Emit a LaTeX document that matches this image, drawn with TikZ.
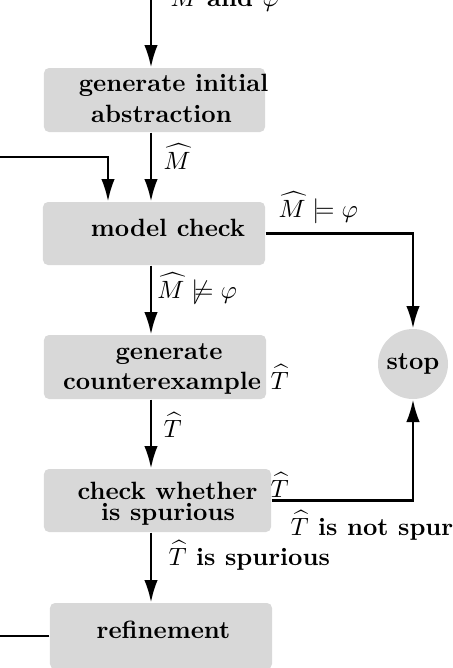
\documentclass[tikz,border=0pt]{standalone}
\usepackage{amsmath,amssymb}
\usetikzlibrary{arrows.meta}
\definecolor{boxgray}{RGB}{216,216,216}
\begin{document}
\begin{tikzpicture}[x=0.4pt,y=-0.4pt,
  box/.style={fill=boxgray,rounded corners=2pt,draw=none,inner sep=0pt,rectangle},
  txt/.style={font=\bfseries,inner sep=0pt,anchor=base},
  lbl/.style={font=\bfseries,inner sep=0pt,anchor=base west},
  arr/.style={line width=1pt,-{Latex[length=9pt,width=5.4pt]}},
  ln/.style={line width=1pt}]
\path[use as bounding box] (0,0) rectangle (453,668);
\clip (0,0) rectangle (453,668);
% boxes
\node[box,minimum width=88.4pt,minimum height=25.6pt] (b1) at (154.5,100) {};
\node[box,minimum width=88.8pt,minimum height=25.2pt] (b2) at (154,233.5) {};
\node[box,minimum width=88.8pt,minimum height=25.6pt] (b3) at (155,367) {};
\node[box,minimum width=90.8pt,minimum height=25.2pt] (b4) at (157.5,500.5) {};
\node[box,minimum width=88.8pt,minimum height=26.4pt] (b5) at (161,636) {};
\node[circle,fill=boxgray,inner sep=0pt,minimum size=28pt,font=\bfseries] (stop) at (413,364) {stop};
% box texts
\node[txt] (t1a) at (173.5,91.7) {generate initial};
\node[txt] (t1b) at (161.5,122.7) {abstraction};
\node[txt] (t2) at (168,236) {model check};
\node[txt] (t3a) at (169,359) {generate};
\node[txt] (t3b) at (162,389) {counterexample};
\node[txt] (t4a) at (167.5,499) {check whether};
\node[txt] (t4b) at (168,520) {is spurious};
\node[txt] (t5) at (163.5,638) {refinement};
% coordinates
\coordinate (ax) at (151,-30);
\coordinate (fb) at (108,157);
\coordinate (lft) at (-40,157);
% connectors
\draw[arr] (ax) -- (b1.north -| ax);
\draw[arr] (b1.south -| ax) -- (b2.north -| ax);
\draw[arr] (b2.south -| ax) -- (b3.north -| ax);
\draw[arr] (b3.south -| ax) -- (b4.north -| ax);
\draw[arr] (b4.south -| ax) -- (b5.north -| ax);
\draw[arr] (b5.west) -- (b5.west -| lft) -- (lft) -- (fb) -- (b2.north -| fb);
\draw[arr] (b2.east) -| (stop.north);
\draw[arr] (b4.east) -| (stop.south);
% labels
\node[lbl] (l0) at (170,6.5) {$M$ and $\varphi$};
\node[lbl] (l1) at (163,169) {$\widehat{M}$};
\node[lbl] (l2) at (278,217) {$\widehat{M}\models\varphi$};
\node[lbl] (l3) at (157,298) {$\widehat{M}\not\models\varphi$};
\node[lbl] (l4) at (270,389) {$\widehat{T}$};
\node[lbl] (l5) at (163,437) {$\widehat{T}$};
\node[lbl] (l6) at (270,497) {$\widehat{T}$};
\node[lbl] (l7) at (168,565) {$\widehat{T}$ is spurious};
\node[lbl] (l8) at (290,535) {$\widehat{T}$ is not spurious};
\end{tikzpicture}
\end{document}
